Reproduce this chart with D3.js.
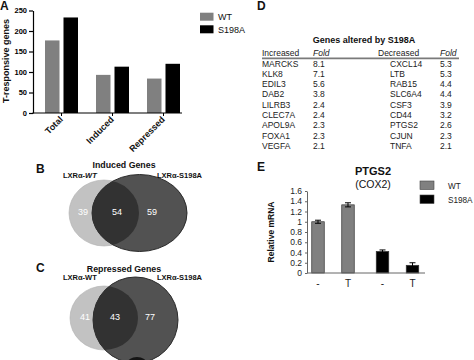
<!DOCTYPE html>
<html><head><meta charset="utf-8">
<script src="https://cdn.jsdelivr.net/npm/d3@7"></script>
<style>
body{margin:0;background:#fff}
svg{display:block;font-family:Arial,"Liberation Sans",sans-serif}
</style>
</head><body>
<svg id="c" width="474" height="360"></svg>
<script>
// ---------- DATA ----------
// Panel A
const groupsA = ["Total", "Induced", "Repressed"];
const seriesA = ["WT", "S198A"];
const wtCounts = [177, 93, 84];
const s198aCounts = [233, 113, 120];
const yTicksA = [0, 50, 100, 150, 200, 250];
// Panels B & C (WT only, both, S198A only)
const inducedVenn = [39, 54, 59];
const repressedVenn = [41, 43, 77];
// Panel D
const increasedGenes = ["MARCKS", "KLK8", "EDIL3", "DAB2", "LILRB3", "CLEC7A", "APOL9A", "FOXA1", "VEGFA"];
const increasedFold = [8.1, 7.1, 5.6, 3.8, 2.4, 2.4, 2.3, 2.3, 2.1];
const decreasedGenes = ["CXCL14", "LTB", "RAB15", "SLC6A4", "CSF3", "CD44", "PTGS2", "CJUN", "TNFA"];
const decreasedFold = [5.3, 5.3, 4.4, 4.4, 3.9, 3.2, 2.6, 2.3, 2.1];
// Panel E
const genotypesE = ["WT", "S198A"];
const conditionsE = ["-", "T"];
const mrnaWT = [1.00, 1.33];
const errWT = [0.03, 0.04];
const mrnaS198A = [0.42, 0.15];
const errS198A = [0.03, 0.05];
const yTicksE = [0, 0.2, 0.4, 0.6, 0.8, 1, 1.2, 1.4, 1.6];

// ---------- DRAW ----------
const svg = d3.select("#c");
svg.append("rect").attr("width", 474).attr("height", 360).attr("fill", "#fff");
const GRAY = "#808080";

function label(x, y, t, size, opts = {}) {
  const e = svg.append("text").attr("x", x).attr("y", y).text(t)
    .attr("font-size", size).attr("fill", opts.fill || "#111")
    .attr("font-weight", opts.bold ? "bold" : "normal")
    .attr("text-anchor", opts.anchor || "start");
  if (opts.italic) e.attr("font-style", "italic");
  return e;
}

// Panel letters
label(0, 10, "A", 12, {bold: true});
label(36, 173, "B", 12, {bold: true});
label(36, 272, "C", 12, {bold: true});
label(257, 10, "D", 12, {bold: true});
label(257, 171, "E", 12, {bold: true});

// ===== Panel A =====
const yA = d3.scaleLinear().domain([0, 250]).range([113, 10.5]);
const x0A = d3.scalePoint().domain(groupsA).range([61.5, 163.5]);
const x1A = d3.scaleBand().domain(seriesA).range([-16.5, 16.5]).paddingInner(0.216);
const colA = {WT: GRAY, S198A: "#000"};
const gA = svg.append("g");
groupsA.forEach((g, i) => {
  const vals = {WT: wtCounts[i], S198A: s198aCounts[i]};
  seriesA.forEach(s => {
    gA.append("rect").attr("x", x0A(g) + x1A(s)).attr("width", x1A.bandwidth())
      .attr("y", yA(vals[s])).attr("height", yA(0) - yA(vals[s])).attr("fill", colA[s]);
  });
});
const axA = gA.append("g").attr("transform", "translate(33,0)")
  .call(d3.axisLeft(yA).tickValues(yTicksA).tickSize(4).tickSizeOuter(0).tickPadding(2));
axA.selectAll("text").attr("font-size", 7.5).attr("font-weight", "bold").attr("font-family", "Arial,'Liberation Sans',sans-serif");
axA.selectAll("path,line").attr("stroke-width", 1.2);
gA.append("line").attr("x1", 32.4).attr("x2", 182).attr("y1", yA(0)).attr("y2", yA(0))
  .attr("stroke", "#000").attr("stroke-width", 1.2);
groupsA.forEach(g => {
  gA.append("line").attr("x1", x0A(g)).attr("x2", x0A(g)).attr("y1", yA(0)).attr("y2", yA(0) + 3)
    .attr("stroke", "#000").attr("stroke-width", 1);
  gA.append("text").attr("transform", `translate(${x0A(g) + 2},120) rotate(-45)`)
    .attr("text-anchor", "end").attr("font-size", 9).attr("font-weight", "bold").attr("fill", "#111").text(g);
});
label(0, 0, "T-responsive genes", 9, {bold: true, anchor: "middle"})
  .attr("transform", "translate(9,61) rotate(-90)").attr("x", null).attr("y", null);
// legend A
const legA = [[seriesA[0], GRAY, 12.7], [seriesA[1], "#000", 25.3]];
legA.forEach(([n, c, y]) => {
  svg.append("rect").attr("x", 200).attr("y", y).attr("width", 13.5).attr("height", 8).attr("fill", c);
  label(218, y + 7.2, n, 9);
});

// ===== Venns =====
function venn(vals, title, titleY, wtItalic, geo) {
  const g = svg.append("g");
  label(124, titleY, title, 8.8, {bold: true, anchor: "middle"});
  const l = label(63, geo.labY, "LXR\u03b1-", 7.5, {bold: true});
  l.append("tspan").text("WT").attr("font-style", wtItalic ? "italic" : "normal");
  label(157, geo.labY, "LXR\u03b1-S198A", 7.5, {bold: true});
  const id = "clip" + titleY;
  g.append("clipPath").attr("id", id).append("ellipse")
    .attr("cx", geo.s.cx).attr("cy", geo.s.cy).attr("rx", geo.s.rx).attr("ry", geo.s.ry);
  g.append("ellipse").attr("cx", geo.w.cx).attr("cy", geo.w.cy).attr("rx", geo.w.rx).attr("ry", geo.w.ry)
    .attr("fill", "#c2c2c2").attr("stroke", "#b0b0b0").attr("stroke-width", 0.6);
  g.append("ellipse").attr("cx", geo.s.cx).attr("cy", geo.s.cy).attr("rx", geo.s.rx).attr("ry", geo.s.ry)
    .attr("fill", "#525252").attr("stroke", "#2a2a2a").attr("stroke-width", 1);
  g.append("ellipse").attr("clip-path", `url(#${id})`)
    .attr("cx", geo.w.cx).attr("cy", geo.w.cy).attr("rx", geo.w.rx).attr("ry", geo.w.ry)
    .attr("fill", "#323232");
  vals.forEach((v, i) => {
    label(geo.numX[i], geo.numY, v, 9, {fill: "#fff", anchor: "middle"});
  });
}
venn(inducedVenn, "Induced Genes", 168, true, {
  labY: 178,
  w: {cx: 104, cy: 213, rx: 35, ry: 33},
  s: {cx: 139.5, cy: 213, rx: 47.5, ry: 38.5},
  numX: [83, 117, 152], numY: 215
});
venn(repressedVenn, "Repressed Genes", 271.5, false, {
  labY: 279.5,
  w: {cx: 104, cy: 318, rx: 34, ry: 32},
  s: {cx: 135.5, cy: 320, rx: 42.5, ry: 43},
  numX: [85, 115, 150], numY: 320
});
svg.append("ellipse").attr("cx", 137).attr("cy", 364).attr("rx", 10).attr("ry", 7).attr("fill", "#151515");

// ===== Panel D =====
label(364, 42.5, "Genes altered by S198A", 9, {bold: true, anchor: "middle"});
label(262, 56, "Increased", 8.5, {fill: "#222"});
label(313, 56, "Fold", 8.5, {fill: "#222", italic: true});
label(378, 56, "Decreased", 8.5, {fill: "#222"});
label(440, 56, "Fold", 8.5, {fill: "#222", italic: true});
svg.append("line").attr("x1", 262).attr("x2", 459).attr("y1", 58.3).attr("y2", 58.3)
  .attr("stroke", "#7a7a7a").attr("stroke-width", 1.8);
const rowY = d3.scaleLinear().domain([0, increasedGenes.length - 1]).range([66.5, 149]);
const f1 = d3.format(".1f");
increasedGenes.forEach((n, i) => {
  label(262, rowY(i), n, 8.5, {fill: "#222"});
  label(313, rowY(i), f1(increasedFold[i]), 8.5, {fill: "#222"});
});
decreasedGenes.forEach((n, i) => {
  label(390, rowY(i), n, 8.5, {fill: "#222"});
  label(440, rowY(i), f1(decreasedFold[i]), 8.5, {fill: "#222"});
});

// ===== Panel E =====
label(373, 174.5, "PTGS2", 11, {bold: true, anchor: "middle"});
label(373, 188, "(COX2)", 10.5, {anchor: "middle"});
const yE = d3.scaleLinear().domain([0, 1.6]).range([273, 191]);
const x0E = d3.scalePoint().domain(genotypesE).range([333, 397.5]);
const x1E = d3.scaleBand().domain(conditionsE).range([-21.25, 21.25]).paddingInner(0.583);
const gE = svg.append("g");
const dataE = {WT: [mrnaWT, errWT, GRAY], S198A: [mrnaS198A, errS198A, "#000"]};
genotypesE.forEach(gt => {
  const [vals, errs, col] = dataE[gt];
  conditionsE.forEach((c, j) => {
    const x = x0E(gt) + x1E(c), w = x1E.bandwidth(), cx = x + w / 2;
    gE.append("rect").attr("x", x).attr("width", w).attr("y", yE(vals[j]))
      .attr("height", yE(0) - yE(vals[j])).attr("fill", col).attr("stroke", "#333").attr("stroke-width", 0.7);
    const top = yE(vals[j] + errs[j]), bot = yE(vals[j] - errs[j]);
    gE.append("line").attr("x1", cx).attr("x2", cx).attr("y1", top).attr("y2", bot).attr("stroke", "#000").attr("stroke-width", 1);
    [top, bot].forEach(yy => gE.append("line").attr("x1", cx - 3).attr("x2", cx + 3).attr("y1", yy).attr("y2", yy)
      .attr("stroke", "#000").attr("stroke-width", 1));
    label(cx, 287, c, 10, {anchor: "middle", fill: "#222"});
  });
});
const axE = gE.append("g").attr("transform", "translate(307,0)")
  .call(d3.axisLeft(yE).tickValues(yTicksE).tickSize(2).tickSizeOuter(0).tickPadding(3).tickFormat(d => String(+d.toFixed(1))));
axE.selectAll("text").attr("font-size", 8.5).attr("fill", "#222").attr("font-family", "Arial,'Liberation Sans',sans-serif");
axE.selectAll("path,line").attr("stroke", "#666");
gE.append("line").attr("x1", 307).attr("x2", 425).attr("y1", yE(0)).attr("y2", yE(0)).attr("stroke", "#666");
label(0, 0, "Relative mRNA", 8.5, {bold: true, anchor: "middle"})
  .attr("transform", "translate(274,232) rotate(-90)").attr("x", null).attr("y", null);
const legE = [[genotypesE[0], GRAY, 181], [genotypesE[1], "#000", 195]];
legE.forEach(([n, c, y]) => {
  svg.append("rect").attr("x", 420).attr("y", y).attr("width", 14).attr("height", 8.5).attr("fill", c).attr("stroke", "#444").attr("stroke-width", 0.6);
  label(448, y + 8, n, 8.2, {fill: "#222"});
});
</script>
</body></html>
